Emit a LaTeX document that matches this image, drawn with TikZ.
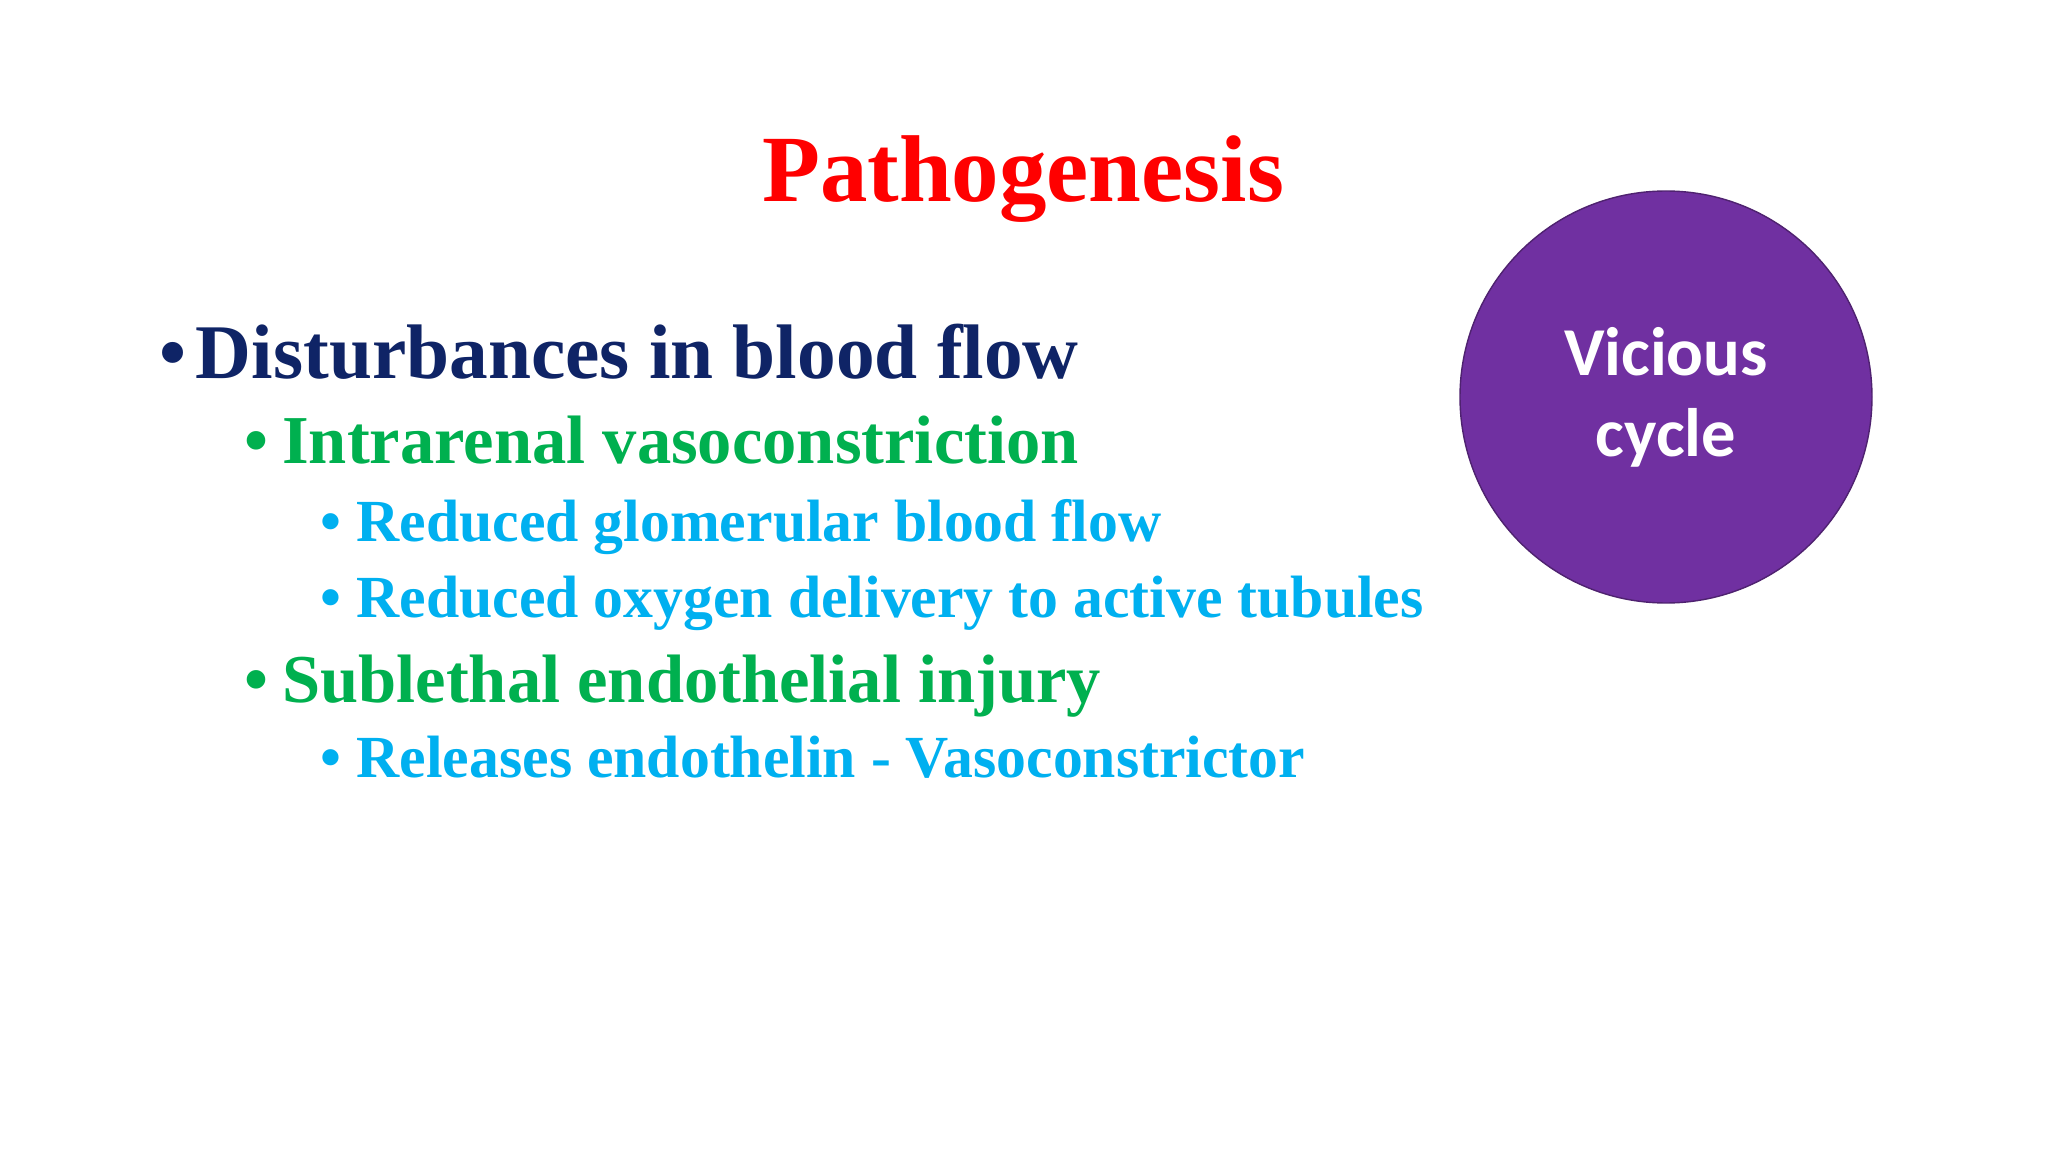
\documentclass[tikz,border=0pt]{standalone}
\usepackage{fontspec}
\setmainfont{Liberation Serif}
\newfontfamily\circfont{Carlito}
\usetikzlibrary{positioning}
\definecolor{mred}{rgb}{1, 0, 0}
\definecolor{mnavy}{rgb}{0.06, 0.14, 0.40}
\definecolor{mgreen}{rgb}{0.0, 0.69, 0.31}
\definecolor{mcyan}{rgb}{0.0, 0.69, 0.94}
\definecolor{mpurple}{rgb}{0.44, 0.19, 0.63}
\tikzset{lvla/.style = {anchor=base west, inner sep=0, font=\bfseries\fontsize{22}{26}\selectfont, text=mnavy}}
\tikzset{lvlb/.style = {anchor=base west, inner sep=0, font=\bfseries\fontsize{19.5}{23}\selectfont, text=mgreen}}
\tikzset{lvlc/.style = {anchor=base west, inner sep=0, font=\bfseries\fontsize{17}{20}\selectfont, text=mcyan}}
\begin{document}
\begin{tikzpicture}
      \useasboundingbox [fill=white] (0, 0) rectangle (20.48, -11.52);
      \node [anchor=base, inner sep=0, text=mred, font=\bfseries\fontsize{27}{32}\selectfont]
        (title) at (10.23, -2.02) {Pathogenesis};

      \node [lvla] (flow) at (1.59, -3.79) {\textbullet\hspace{0.12em}Disturbances in blood flow};
      \node [lvlb] (vaso) at (2.44, -4.64) {\textbullet\hspace{0.2em}Intrarenal vasoconstriction};
      \node [lvlc] (glom) at (3.20, -5.42) {\textbullet\hspace{0.25em}Reduced glomerular blood flow};
      \node [lvlc] (oxy) at (3.20, -6.18) {\textbullet\hspace{0.25em}Reduced oxygen delivery to active tubules};
      \node [lvlb] (endo) at (2.44, -7.03) {\textbullet\hspace{0.2em}Sublethal endothelial injury};
      \node [lvlc] (rel) at (3.20, -7.78) {\textbullet\hspace{0.25em}Releases endothelin - Vasoconstrictor};

      \node [circle, fill=mpurple, draw=mpurple!70!black, minimum size=4.12cm, align=center,
             text=white, font=\circfont\bfseries\fontsize{19.5}{23}\selectfont]
        (cycle) at (16.66, -3.97) {Vicious\\cycle};
\end{tikzpicture}
\end{document}
